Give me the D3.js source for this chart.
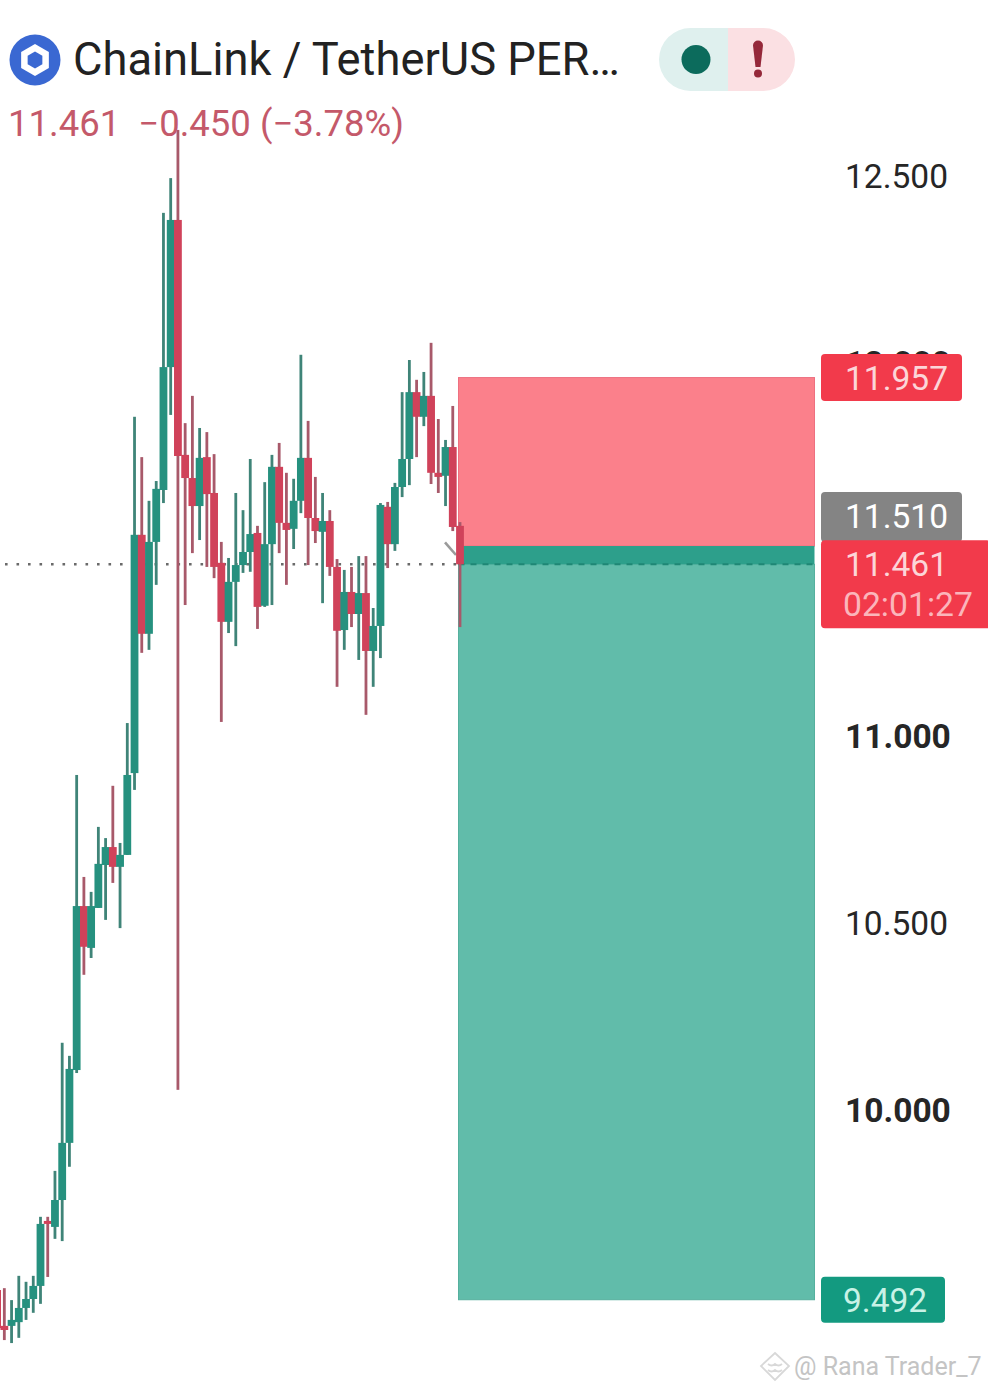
<!DOCTYPE html>
<html><head><meta charset="utf-8">
<style>html,body{margin:0;padding:0;background:#fff}svg{display:block}text{font-family:Roboto,sans-serif}</style>
<script src="https://cdn.jsdelivr.net/npm/d3@7/dist/d3.min.js"></script>
</head><body><svg id="c" width="988" height="1391"></svg>
<script>
const highs=[9.537,9.523,9.491,9.556,9.540,9.556,9.714,9.714,9.837,10.180,10.145,10.897,10.624,10.584,10.758,10.728,10.868,10.715,11.036,11.856,11.748,11.631,11.684,12.402,12.495,12.624,11.839,11.912,11.826,11.815,11.756,11.521,11.478,11.652,11.606,11.743,11.564,11.681,11.754,11.786,11.706,11.690,12.022,11.845,11.695,11.652,11.606,11.475,11.446,11.454,11.483,11.483,11.344,11.625,11.628,11.679,11.922,12.008,11.955,11.976,12.054,11.850,11.794,11.885,11.574];
const lows=[9.411,9.384,9.376,9.390,9.438,9.457,9.481,9.553,9.655,9.649,9.848,10.099,10.362,10.407,10.541,10.509,10.608,10.487,10.683,10.857,11.224,11.232,11.406,11.625,11.861,10.054,11.352,11.491,11.526,11.454,11.424,11.039,11.277,11.242,11.438,11.441,11.288,11.347,11.352,11.491,11.406,11.502,11.598,11.459,11.518,11.357,11.430,11.133,11.232,11.293,11.205,11.058,11.133,11.210,11.451,11.497,11.641,11.673,11.748,11.831,11.676,11.652,11.617,11.550,11.293];
const opens=[9.518,9.422,9.422,9.432,9.470,9.494,9.529,9.703,9.687,9.759,9.912,10.107,10.546,10.434,10.541,10.656,10.704,10.651,10.683,10.902,11.540,11.275,11.521,11.660,11.989,12.383,11.754,11.692,11.617,11.748,11.652,11.465,11.307,11.414,11.459,11.494,11.545,11.350,11.515,11.722,11.572,11.556,11.631,11.746,11.585,11.548,11.577,11.454,11.285,11.387,11.328,11.384,11.229,11.296,11.615,11.515,11.668,11.743,11.922,11.856,11.912,11.706,11.698,11.775,11.564];
const closes=[9.416,9.411,9.438,9.470,9.494,9.529,9.695,9.695,9.759,9.912,10.110,10.546,10.437,10.546,10.659,10.704,10.651,10.683,10.897,11.540,11.275,11.521,11.663,11.989,12.383,11.751,11.692,11.617,11.746,11.649,11.454,11.307,11.414,11.459,11.494,11.542,11.347,11.515,11.722,11.572,11.553,11.631,11.746,11.585,11.550,11.577,11.454,11.283,11.387,11.328,11.384,11.229,11.296,11.620,11.515,11.668,11.743,11.922,11.856,11.912,11.706,11.695,11.775,11.561,11.461];
const tickValues=[12.5,12,11,10.5,10];
const boldTicks=[12,11,10];
const stopPrice=11.957, entryPrice=11.510, lastPrice=11.461, targetPrice=9.492;
const countdown="02:01:27";
const titleText="ChainLink / TetherUS PER…";
const changeText="11.461  −0.450 (−3.78%)";
const watermarkText="@ Rana Trader_7";

const svg=d3.select("#c");
const y=d3.scaleLinear().domain([10,12.5]).range([1110,176.25]);
const x=d3.scalePoint().domain(d3.range(highs.length)).range([-2.9,460]);
const fmt=d3.format(".3f");
const GREEN="#26917f",RED="#d0425a",GW="#3f8478",RW="#a8596a";
const boxL=458.5,boxR=814.5;

// axis (12.000 is mostly hidden behind the stop label)
const ax=svg.append("g").attr("transform","translate(845,0)")
 .call(d3.axisRight(y).tickValues(tickValues).tickSize(0).tickPadding(0).tickFormat(fmt));
ax.select(".domain").remove();
ax.selectAll("text").attr("fill","#262626").style("font-family","Roboto,sans-serif").style("font-size","33.5px")
 .attr("dy","0.34em").style("font-weight",d=>boldTicks.includes(d)?"700":"400");

// position box
const box=svg.append("g");
box.append("rect").attr("x",boxL).attr("width",boxR-boxL).attr("y",y(stopPrice)-1.5).attr("height",y(entryPrice)-y(stopPrice)+1.5).attr("fill","#fb808b").attr("stroke","#ee7080").attr("stroke-width",1);
box.append("rect").attr("x",boxL).attr("width",boxR-boxL).attr("y",y(lastPrice)).attr("height",y(targetPrice)-y(lastPrice)).attr("fill","#61bcaa").attr("stroke","#55b09e").attr("stroke-width",1);
box.append("rect").attr("x",boxL).attr("width",boxR-boxL).attr("y",y(entryPrice)).attr("height",y(lastPrice)-y(entryPrice)).attr("fill","#2d9f8b");

// last price dotted line
svg.append("line").attr("x1",5).attr("x2",boxL).attr("y1",y(lastPrice)).attr("y2",y(lastPrice))
 .attr("stroke","#6a6a6a").attr("stroke-width",2.4).attr("stroke-dasharray","2.6 8.9");
svg.append("line").attr("x1",boxL).attr("x2",boxR).attr("y1",y(lastPrice)).attr("y2",y(lastPrice))
 .attr("stroke","#1f8775").attr("stroke-width",2).attr("stroke-dasharray","6 6");

// grey drawing stub
svg.append("line").attr("x1",445).attr("y1",y(11.52)).attr("x2",456).attr("y2",y(11.486)).attr("stroke","#9a9a9a").attr("stroke-width",2.6);

// candles
const cs=svg.append("g").selectAll("g").data(highs.map((h,i)=>({i,h,l:lows[i],o:opens[i],c:closes[i]}))).join("g");
cs.append("rect").attr("x",d=>x(d.i)-1.4).attr("width",2.8).attr("y",d=>y(d.h)).attr("height",d=>y(d.l)-y(d.h))
 .attr("fill",d=>d.c>=d.o?GW:RW);
cs.append("rect").attr("x",d=>x(d.i)-3.9).attr("width",7.8).attr("y",d=>y(Math.max(d.o,d.c))).attr("height",d=>Math.max(1.5,Math.abs(y(d.o)-y(d.c))))
 .attr("fill",d=>d.c>=d.o?GREEN:RED);

// price labels
function tag(x0,w,price,top,h,fill){return svg.append("rect").attr("x",x0).attr("y",y(price)+top).attr("width",w).attr("height",h).attr("rx",4).attr("fill",fill);}
function lab(txt,xp,yp,fill,size){return svg.append("text").attr("x",xp).attr("y",yp).attr("fill",fill).style("font-size",size+"px").style("white-space","pre").text(txt);}
tag(821,141,stopPrice,-25,47,"#f23a4b");
lab(fmt(stopPrice),845,y(stopPrice)+11,"#fcd5d8",33.5);
tag(821,141,entryPrice,-54,50,"#848484");
lab(fmt(entryPrice),845,y(entryPrice)-18,"#fff",33.5);
tag(821,170,lastPrice,-24,88,"#f23a4b");
lab(fmt(lastPrice),845,y(lastPrice)+12,"#fcd5d8",33.5);
lab(countdown,843,y(lastPrice)+52,"#fbb5bb",33.7);
tag(821,124,targetPrice,-23,46,"#139a80");
lab(fmt(targetPrice),843,y(targetPrice)+12,"#c8f2e6",33.5);

// header
svg.append("circle").attr("cx",35).attr("cy",60).attr("r",25.5).attr("fill","#3a68d2");
const hex=(cx,cy,r)=>d3.range(6).map(k=>{const a=Math.PI/6+k*Math.PI/3;return [cx+r*Math.cos(a),cy+r*Math.sin(a)].join(",");}).join(" ");
svg.append("polygon").attr("points",hex(35,60,16)).attr("fill","#fff");
svg.append("polygon").attr("points",hex(35,60,8.5)).attr("fill","#3a68d2");
lab(titleText,73,75,"#222",45.3);
lab(changeText,8,136,"#c4596a",36.5);

// status pill
svg.append("path").attr("d","M728,28H690.5a31.5,31.5 0 0 0 0,63H728Z").attr("fill","#dff0ee");
svg.append("path").attr("d","M728,28H763.5a31.5,31.5 0 0 1 0,63H728Z").attr("fill","#fbe0e3");
svg.append("circle").attr("cx",696).attr("cy",59.5).attr("r",14.5).attr("fill","#0c6b5c");
svg.append("path").attr("d","M753,45.5a5,5 0 0 1 10,0L760.5,67h-5Z").attr("fill","#95283a");
svg.append("circle").attr("cx",758).attr("cy",73.5).attr("r",4).attr("fill","#95283a");

// watermark
const wm=svg.append("g").attr("fill","none").attr("stroke","#d8d8d8").attr("stroke-width",1.8);
wm.append("path").attr("d","M775,1353L789,1366L775,1380L761,1366Z");
wm.append("path").attr("d","M768,1364q3.5,3 7,0q3.5,3 7,0M768,1370q3.5,3 7,0q3.5,3 7,0");
lab(watermarkText,794,1375,"#c4c4c4",25);
</script></body></html>
